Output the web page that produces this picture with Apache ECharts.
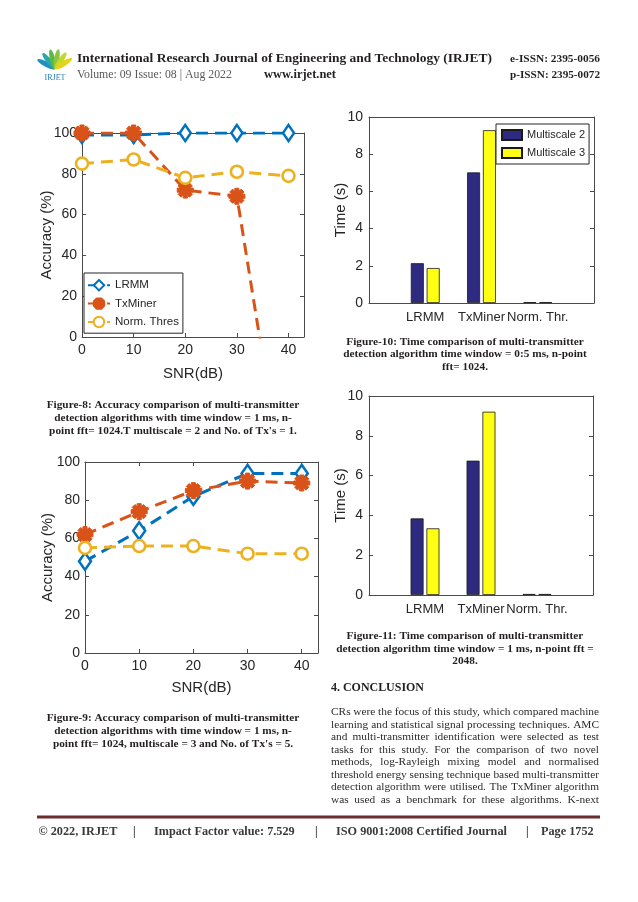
<!DOCTYPE html>
<html><head><meta charset="utf-8">
<script src="https://cdn.jsdelivr.net/npm/echarts@6/dist/echarts.min.js"></script>
<style>html,body{margin:0;padding:0;background:#fff}#c{width:638px;height:902px}</style>
</head><body><div id="c"></div>
<script>
// ---------- data ----------
const snr = [0, 10, 20, 30, 40];
const fig8Lrmm = [99, 99, 100, 100, 100];
const fig8Tx = [100, 100, 72, 69, -88];
const fig8Norm = [85, 87, 78, 81, 79];
const fig9Lrmm = [48, 64, 82, 94, 94];
const fig9Tx = [62, 74, 85, 90, 89];
const fig9Norm = [55, 56, 56, 52, 52];
const lineNames = ['LRMM', 'TxMiner', 'Norm. Thres'];
const timeCats = ['', 'LRMM', 'TxMiner', 'Norm. Thr.', ''];
const barNames = ['Multiscale 2', 'Multiscale 3'];
const fig10Ms2 = [null, 2.14, 7.02, 0.05, null];
const fig10Ms3 = [null, 1.88, 9.29, 0.05, null];
const fig11Ms2 = [null, 3.85, 6.75, 0.05, null];
const fig11Ms3 = [null, 3.35, 9.21, 0.05, null];

const headTitle = 'International Research Journal of Engineering and Technology (IRJET)';
const headEissn = 'e-ISSN: 2395-0056';
const headVol = 'Volume: 09 Issue: 08 | Aug 2022';
const headWeb = 'www.irjet.net';
const headPissn = 'p-ISSN: 2395-0072';
const cap8 = ['Figure-8: Accuracy comparison of multi-transmitter', 'detection algorithms with time window = 1 ms, n-', "point fft= 1024.T multiscale = 2 and No. of Tx's = 1."];
const cap9 = ['Figure-9: Accuracy comparison of multi-transmitter', 'detection algorithms with time window = 1 ms, n-', "point fft= 1024, multiscale = 3 and No. of Tx's = 5."];
const cap10 = ['Figure-10: Time comparison of multi-transmitter', 'detection algorithm time window = 0:5 ms, n-point', 'fft= 1024.'];
const cap11 = ['Figure-11: Time comparison of multi-transmitter', 'detection algorithm time window = 1 ms, n-point fft =', '2048.'];
const heading = '4. CONCLUSION';
const bodyLines = [
  'CRs were the focus of this study, which compared machine',
  'learning and statistical signal processing techniques. AMC',
  'and multi-transmitter identification were selected as test',
  'tasks for this study. For the comparison of two novel',
  'methods, log-Rayleigh mixing model and normalised',
  'threshold energy sensing technique based multi-transmitter',
  'detection algorithm were utilised. The TxMiner algorithm',
  'was used as a benchmark for these algorithms. K-next'
];
const footItems = ['\u00a9 2022, IRJET', '|', 'Impact Factor value: 7.529', '|', 'ISO 9001:2008 Certified Journal', '|', 'Page 1752'];

// ---------- styling helpers ----------
const SERIF = '"Liberation Serif", serif';
const SANS = '"Liberation Sans", Arial, sans-serif';
const INK = '#231f20';
const AX = '#4a4a4a';
const TICK = '#262626';
const C_BLUE = '#0072BD', C_ORANGE = '#D95319', C_YELLOW = '#EDB120';
const C_BAR1 = '#2E2A80', C_BAR2 = '#FFFF14';

const mctx = document.createElement('canvas').getContext('2d');
function tw(text, font) { mctx.font = font; return mctx.measureText(text).width; }
function fit(text, weight, family, width) { return 100 * width / tw(text, weight + ' 100px ' + family); }

const gfx = [];
function txt(text, x, y, font, fill, align) {
  gfx.push({type: 'text', x: x, y: y, silent: true, z: 10,
    style: {text: text, font: font, fill: fill || INK, align: align || 'left', verticalAlign: 'middle',
            textAlign: align || 'left', textVerticalAlign: 'middle'}});
}

// asterisk marker
function asteriskPath() {
  let d = '';
  [0, 45, 90, 135].forEach(a => {
    const r = a * Math.PI / 180, c = Math.cos(r), s = Math.sin(r), L = 7, Wd = 1.8;
    const pts = [[-L, -Wd], [L, -Wd], [L, Wd], [-L, Wd]].map(p => [(p[0] * c - p[1] * s).toFixed(3), (p[0] * s + p[1] * c).toFixed(3)]);
    d += 'M' + pts[0].join(',') + 'L' + pts[1].join(',') + 'L' + pts[2].join(',') + 'L' + pts[3].join(',') + 'Z';
  });
  return 'path://' + d;
}
const STAR = asteriskPath();

// ---------- header ----------
const logoLeaves = [
  {a: 62, c: '#1f8fc0'}, {a: 38, c: '#2aa7a8'}, {a: 14, c: '#5cb947'},
  {a: -10, c: '#8cc63f'}, {a: -34, c: '#c2d82e'}, {a: -58, c: '#e6d21c'}
];
logoLeaves.forEach(l => {
  gfx.push({type: 'ellipse', x: 55, y: 69, rotation: l.a * Math.PI / 180, silent: true,
    shape: {cx: 0, cy: -10, rx: 2.6, ry: 10}, style: {fill: l.c}});
});
txt('IRJET', 55, 78, '8px ' + SERIF, '#1f7fb0', 'center');

function fitFont(text, weight, width) { return (weight ? weight + ' ' : '') + fit(text, weight || 'normal', SERIF, width).toFixed(2) + 'px ' + SERIF; }
txt(headTitle, 77, 59, fitFont(headTitle, 'bold', 415), INK);
txt(headEissn, 600, 59, fitFont(headEissn, 'bold', 90), INK, 'right');
txt(headVol, 77, 75, fitFont(headVol, '', 155), '#5a5a5a');
txt(headWeb, 264, 75, fitFont(headWeb, 'bold', 72), INK);
txt(headPissn, 600, 75, fitFont(headPissn, 'bold', 90), INK, 'right');

// ---------- captions ----------
const capSize = fit(cap8[0], 'bold', SERIF, 253);
const capFont = 'bold ' + capSize.toFixed(2) + 'px ' + SERIF;
cap8.forEach((t, i) => txt(t, 173, 405 + i * 13, capFont, INK, 'center'));
cap9.forEach((t, i) => txt(t, 173, 718 + i * 13, capFont, INK, 'center'));
cap10.forEach((t, i) => txt(t, 465, 342 + i * 12.5, capFont, INK, 'center'));
cap11.forEach((t, i) => txt(t, 465, 636.5 + i * 12.5, capFont, INK, 'center'));
txt(heading, 331, 688, fitFont(heading, 'bold', 93), INK);

// ---------- justified paragraph ----------
const bodySize = fit(bodyLines[5], 'normal', SERIF, 268);
const bodyFont = bodySize.toFixed(2) + 'px ' + SERIF;
bodyLines.forEach((line, i) => {
  const words = line.split(' ');
  const widths = words.map(w => tw(w, bodyFont));
  const sum = widths.reduce((a, b) => a + b, 0);
  const gap = (268 - sum) / (words.length - 1);
  let x = 331;
  words.forEach((w, k) => { txt(w, x, 712.5 + i * 12.5, bodyFont, '#2b2b2b'); x += widths[k] + gap; });
});

// ---------- footer ----------
gfx.push({type: 'rect', silent: true, shape: {x: 37, y: 815.5, width: 563, height: 3}, style: {fill: '#6b2c2c'}});
const footFont = 'bold ' + fit(footItems[4], 'bold', SERIF, 171).toFixed(2) + 'px ' + SERIF;
const footX = [38.5, 133, 154, 315, 336, 526, 541];
footItems.forEach((t, i) => txt(t, footX[i], 832, footFont, '#3a3a3a'));

// ---------- axes ----------
const labelStyle = {color: TICK, fontSize: 14, fontFamily: SANS};
const nameStyle = {color: TICK, fontSize: 15, fontFamily: SANS};
function boxX(grid, extra) {
  return Object.assign({gridIndex: grid, position: 'top', axisLine: {show: true, onZero: false, lineStyle: {color: AX, width: 1}},
    axisTick: {show: true, inside: true, length: 4, lineStyle: {color: AX}}, axisLabel: {show: false}, splitLine: {show: false}}, extra);
}
function boxY(grid, extra) {
  return Object.assign({gridIndex: grid, position: 'right', axisLine: {show: true, onZero: false, lineStyle: {color: AX, width: 1}},
    axisTick: {show: true, inside: true, length: 4, lineStyle: {color: AX}}, axisLabel: {show: false}, splitLine: {show: false}}, extra);
}
function snrAxis(grid, gap) {
  return {gridIndex: grid, type: 'value', min: 0, max: 43, interval: 10, position: 'bottom',
    name: 'SNR(dB)', nameLocation: 'middle', nameGap: gap, nameTextStyle: nameStyle, nameMoveOverlap: false,
    axisLine: {show: true, onZero: false, lineStyle: {color: AX, width: 1}},
    axisTick: {show: true, inside: true, length: 4, lineStyle: {color: AX}},
    axisLabel: Object.assign({margin: 6, formatter: v => (v % 10 === 0 ? String(v) : ''), showMaxLabel: true}, labelStyle),
    splitLine: {show: false}};
}
function accAxis(grid, gap) {
  return {gridIndex: grid, type: 'value', min: 0, max: 100, interval: 20, position: 'left',
    name: 'Accuracy (%)', nameLocation: 'middle', nameGap: gap, nameRotate: 90, nameTextStyle: nameStyle, nameMoveOverlap: false,
    axisLine: {show: true, onZero: false, lineStyle: {color: AX, width: 1}},
    axisTick: {show: true, inside: true, length: 4, lineStyle: {color: AX}},
    axisLabel: Object.assign({margin: 5}, labelStyle), splitLine: {show: false}};
}
function catAxis(grid) {
  return {gridIndex: grid, type: 'category', data: timeCats, boundaryGap: false, position: 'bottom',
    axisLine: {show: true, onZero: false, lineStyle: {color: AX, width: 1}},
    axisTick: {show: false}, axisLabel: Object.assign({}, labelStyle, {margin: 8, interval: 0, fontSize: 13}), splitLine: {show: false}};
}
function timeAxis(grid, gap) {
  return {gridIndex: grid, type: 'value', min: 0, max: 10, interval: 2, position: 'left',
    name: 'Time (s)', nameLocation: 'middle', nameGap: gap, nameRotate: 90, nameTextStyle: nameStyle, nameMoveOverlap: false,
    axisLine: {show: true, onZero: false, lineStyle: {color: AX, width: 1}},
    axisTick: {show: true, inside: true, length: 4, lineStyle: {color: AX}},
    axisLabel: Object.assign({margin: 6}, labelStyle), splitLine: {show: false}};
}

const xAxes = [
  snrAxis(0, 29), boxX(0, {type: 'value', min: 0, max: 43, interval: 10}),
  snrAxis(1, 27), boxX(1, {type: 'value', min: 0, max: 43, interval: 10}),
  catAxis(2), boxX(2, {type: 'category', data: timeCats, boundaryGap: false, axisTick: {show: false}}),
  catAxis(3), boxX(3, {type: 'category', data: timeCats, boundaryGap: false, axisTick: {show: false}})
];
const yAxes = [
  accAxis(0, 28), boxY(0, {type: 'value', min: 0, max: 100, interval: 20}),
  accAxis(1, 30), boxY(1, {type: 'value', min: 0, max: 100, interval: 20}),
  timeAxis(2, 21), boxY(2, {type: 'value', min: 0, max: 10, interval: 2}),
  timeAxis(3, 21), boxY(3, {type: 'value', min: 0, max: 10, interval: 2})
];

// ---------- series ----------
function lineSeries(name, vals, color, symbol, size, axis, hollow) {
  return {type: 'line', name: name, xAxisIndex: axis, yAxisIndex: axis, clip: true,
    data: snr.map((x, i) => [x, vals[i]]), symbol: symbol, symbolSize: size, showAllSymbol: true,
    lineStyle: {color: color, width: 3, type: [12, 7]},
    itemStyle: hollow ? {color: '#ffffff', borderColor: color, borderWidth: 2.6} : {color: color, borderColor: color, borderWidth: 1},
    emphasis: {disabled: true}, animation: false};
}
function barSeries(name, vals, color, axis) {
  return {type: 'bar', name: name, xAxisIndex: axis, yAxisIndex: axis, data: vals, barWidth: 13, barGap: '22%',
    itemStyle: {color: color, borderColor: '#1a1a1a', borderWidth: 0.8}, emphasis: {disabled: true}, animation: false};
}
const series = [
  lineSeries(lineNames[0], fig8Lrmm, C_BLUE, 'diamond', [11, 16], 0, true),
  lineSeries(lineNames[1], fig8Tx, C_ORANGE, STAR, 16, 0, false),
  lineSeries(lineNames[2], fig8Norm, C_YELLOW, 'circle', 12, 0, true),
  lineSeries(lineNames[0], fig9Lrmm, C_BLUE, 'diamond', [12, 17], 2, true),
  lineSeries(lineNames[1], fig9Tx, C_ORANGE, STAR, 16, 2, false),
  lineSeries(lineNames[2], fig9Norm, C_YELLOW, 'circle', 12, 2, true),
  barSeries(barNames[0], fig10Ms2, C_BAR1, 4),
  barSeries(barNames[1], fig10Ms3, C_BAR2, 4),
  barSeries(barNames[0], fig11Ms2, C_BAR1, 6),
  barSeries(barNames[1], fig11Ms3, C_BAR2, 6)
];

const option = {
  backgroundColor: '#ffffff',
  animation: false,
  grid: [
    {left: 82, top: 133, width: 222, height: 204, outerBoundsMode: 'none', containLabel: false},
    {left: 85, top: 462, width: 233, height: 191, outerBoundsMode: 'none', containLabel: false},
    {left: 369, top: 117, width: 225, height: 186, outerBoundsMode: 'none', containLabel: false},
    {left: 369, top: 396, width: 224, height: 199, outerBoundsMode: 'none', containLabel: false}
  ],
  xAxis: xAxes,
  yAxis: yAxes,
  legend: [
    {data: lineNames, left: 84, top: 273, orient: 'vertical', itemWidth: 22, itemHeight: 13, itemGap: 6,
     padding: [6, 4, 5, 3], borderColor: '#262626', borderWidth: 1, backgroundColor: '#ffffff',
     textStyle: {color: TICK, fontSize: 11.5, fontFamily: SANS}, selectedMode: false},
    {data: barNames, left: 496, top: 124, orient: 'vertical', icon: 'rect', itemWidth: 20, itemHeight: 10, itemGap: 6,
     padding: [5, 4, 5, 5], borderColor: '#262626', borderWidth: 1, backgroundColor: '#ffffff',
     textStyle: {color: TICK, fontSize: 11, fontFamily: SANS}, selectedMode: false}
  ],
  series: series,
  graphic: {elements: gfx}
};
const chart = echarts.init(document.getElementById('c'), null, {renderer: 'canvas', width: 638, height: 902});
chart.setOption(option);
</script>
</body></html>
